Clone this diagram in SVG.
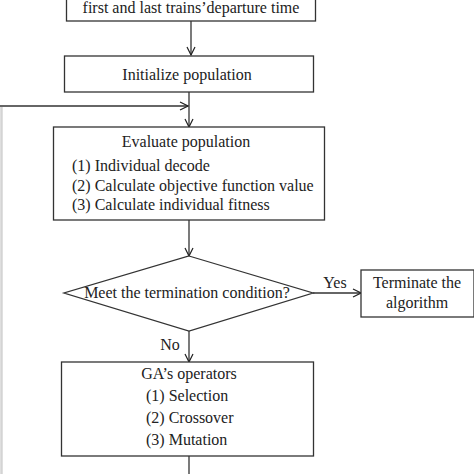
<svg xmlns="http://www.w3.org/2000/svg" width="474" height="474" viewBox="0 0 474 474">
<defs>
<marker id="arr" viewBox="0 0 10 10" refX="9" refY="5" markerWidth="10" markerHeight="10" markerUnits="userSpaceOnUse" orient="auto">
<path d="M1,1 L9,5 L1,9" fill="none" stroke="#222" stroke-width="1.2"/>
</marker>
</defs>
<style>
.box{fill:#fff;stroke:#333;stroke-width:1.3}
.t{font-family:"Liberation Serif","Times New Roman",serif;font-size:16px;fill:#222}
.c{text-anchor:middle}
.ln{fill:none;stroke:#333;stroke-width:1.3}
</style>
<rect width="474" height="474" fill="#fff"/>
<g id="connectors">
<line class="ln" x1="191" y1="21" x2="191" y2="55" marker-end="url(#arr)"/>
<line class="ln" x1="189" y1="92" x2="189" y2="127" marker-end="url(#arr)"/>
<line class="ln" x1="0" y1="106" x2="188" y2="106" marker-end="url(#arr)"/>
<line x1="1.5" y1="107" x2="1.5" y2="474" stroke="#d4d4d4" stroke-width="2.5"/>
<line class="ln" x1="189" y1="220" x2="189" y2="256" marker-end="url(#arr)"/>
<line class="ln" x1="313" y1="293" x2="361" y2="293" marker-end="url(#arr)"/>
<line class="ln" x1="189" y1="331" x2="189" y2="362" marker-end="url(#arr)"/>
<line class="ln" x1="189" y1="456" x2="189" y2="474"/>
<text class="t c" x="335" y="288">Yes</text>
<text class="t c" x="170" y="350">No</text>
</g>
<g id="input">
<rect class="box" x="66.5" y="-10" width="249" height="31"/>
<text class="t c" x="191" y="13">first and last trains’departure time</text>
</g>
<g id="init">
<rect class="box" x="64.5" y="56" width="249" height="36"/>
<text class="t c" x="187" y="80">Initialize population</text>
</g>
<g id="evaluate">
<rect class="box" x="53.5" y="127" width="271" height="93"/>
<text class="t c" x="186" y="147">Evaluate population</text>
<text class="t" x="72" y="171">(1) Individual decode</text>
<text class="t" x="72" y="191">(2) Calculate objective function value</text>
<text class="t" x="72" y="210">(3) Calculate individual fitness</text>
</g>
<g id="decision">
<polygon class="box" points="189,256 313,293 189,331 64,293"/>
<text class="t c" x="187" y="298">Meet the termination condition?</text>
</g>
<g id="terminate">
<rect class="box" x="361" y="270" width="113" height="47"/>
<text class="t c" x="417" y="288">Terminate the</text>
<text class="t c" x="417" y="308">algorithm</text>
</g>
<g id="ga">
<rect class="box" x="61.5" y="362" width="252" height="94"/>
<text class="t c" x="189" y="379">GA’s operators</text>
<text class="t" x="146" y="401">(1) Selection</text>
<text class="t" x="146" y="423">(2) Crossover</text>
<text class="t" x="146" y="445">(3) Mutation</text>
</g>
</svg>
